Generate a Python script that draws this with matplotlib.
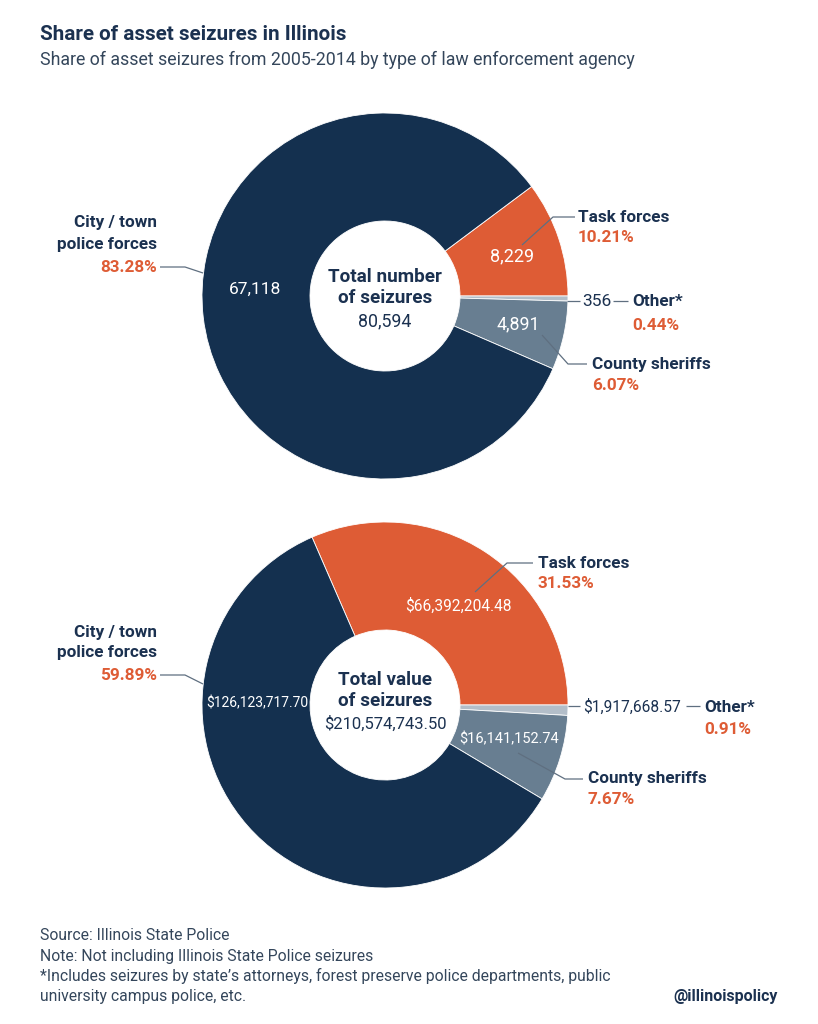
import numpy as np
import matplotlib
matplotlib.use("Agg")
import matplotlib.pyplot as plt

plt.rcParams['font.family'] = ['Roboto', 'DejaVu Sans']

# 数据
categories = ["Task forces", "Other*", "County sheriffs", "City / town\npolice forces"]
count_values = [8229, 356, 4891, 67118]
count_pct = [10.21, 0.44, 6.07, 83.28]
count_total = "80,594"
value_values = [66392204.48, 1917668.57, 16141152.74, 126123717.70]
value_pct = [31.53, 0.91, 7.67, 59.89]
value_total = "$210,574,743.50"

NAVY = "#14304f"
ORANGE = "#de5c35"
SLATE = "#687e91"
LIGHT = "#b3bec9"
TEXT = "#1b3150"
LINE = "#5f6f80"
colors = [ORANGE, LIGHT, SLATE, NAVY]

W, H = 818, 1024
fig = plt.figure(figsize=(W / 100, H / 100), dpi=100)


def donut(cx, cy, r, values, pct):
    ax = fig.add_axes([(cx - r) / W, 1 - (cy + r) / H, 2 * r / W, 2 * r / H])
    ax.pie(values, colors=colors, startangle=pct[0] * 3.6, counterclock=False,
           radius=1, wedgeprops=dict(width=1 - 75 / r, edgecolor="white", linewidth=0.6))
    ax.set_xlim(-1, 1)
    ax.set_ylim(-1, 1)
    ax.axis("off")
    return ax


donut(385, 296, 183, count_values, count_pct)
donut(385, 705, 183, value_values, value_pct)

# 覆盖层，用像素坐标放文字和引线
ov = fig.add_axes([0, 0, 1, 1], zorder=5)
ov.set_xlim(0, W)
ov.set_ylim(H, 0)
ov.axis("off")
ov.patch.set_alpha(0)


def lead(xs, ys):
    ov.plot(xs, ys, color=LINE, lw=0.9, solid_capstyle="butt")


def lab(x, y, s, size=12.3, color=TEXT, weight="bold", ha="left"):
    ov.text(x, y, s, fontsize=size, color=color, fontweight=weight, ha=ha, va="center")


# 标题
ov.text(40, 35, "Share of asset seizures in Illinois", fontsize=14.9, fontweight="bold",
        color=TEXT, va="center")
ov.text(40, 60, "Share of asset seizures from 2005-2014 by type of law enforcement agency",
        fontsize=12.8, fontweight="normal", color="#34465b", va="center")

# ---- 第一个图 ----
lab(157, 223, "City / town", ha="right")
lab(157, 245, "police forces", ha="right")
lab(157, 267, "%.2f%%" % count_pct[3], color=ORANGE, ha="right")
lead([160, 185, 203], [267, 267, 273])
lab(255, 289, "{:,}".format(count_values[3]), size=12.5, color="white", weight="normal", ha="center")

lab(385, 277, "Total number", size=13.6, ha="center")
lab(385, 298, "of seizures", size=13.6, ha="center")
lab(385, 321, count_total, size=12.8, weight="normal", ha="center")

lab(512, 256, "{:,}".format(count_values[0]), size=13, color="white", weight="normal", ha="center")
lead([522, 553, 575], [245, 217, 217])
lab(578, 217, categories[0])
lab(578, 237, "%.2f%%" % count_pct[0], color=ORANGE)

lead([567, 580], [301, 301])
lab(582, 302, "{:,}".format(count_values[1]), size=12.5, weight="normal")
lead([613, 628], [301, 301])
lab(632, 302, categories[1])
lab(632, 325, "%.2f%%" % count_pct[1], color=ORANGE)

lab(518, 324, "{:,}".format(count_values[2]), size=12.8, color="white", weight="normal", ha="center")
lead([542, 568, 587], [335, 364, 364])
lab(592, 364, categories[2])
lab(592, 385, "%.2f%%" % count_pct[2], color=ORANGE)

# ---- 第二个图 ----
lab(157, 632, "City / town", ha="right")
lab(157, 653, "police forces", ha="right")
lab(157, 675, "%.2f%%" % value_pct[3], color=ORANGE, ha="right")
lead([160, 185, 203], [675, 675, 684])
lab(257, 703, "${:,.2f}".format(value_values[3]), size=10, color="white", weight="normal", ha="center")

lab(385, 680, "Total value", size=13.6, ha="center")
lab(385, 701, "of seizures", size=13.6, ha="center")
lab(385, 724, value_total, size=12, weight="normal", ha="center")

lab(458, 606, "${:,.2f}".format(value_values[0]), size=11.2, color="white", weight="normal", ha="center")
lead([475, 507, 533], [592, 563, 563])
lab(538, 563, categories[0])
lab(538, 584, "%.2f%%" % value_pct[0], color=ORANGE)

lead([568, 580], [706, 706])
lab(583, 707, "${:,.2f}".format(value_values[1]), size=11.2, weight="normal")
lead([686, 700], [706, 706])
lab(704, 707, categories[1])
lab(704, 729, "%.2f%%" % value_pct[1], color=ORANGE)

lab(509, 739, "${:,.2f}".format(value_values[2]), size=10.5, color="white", weight="normal", ha="center")
lead([518, 565, 583], [753, 779, 779])
lab(588, 779, categories[2])
lab(588, 800, "%.2f%%" % value_pct[2], color=ORANGE)

# 脚注
notes = ["Source: Illinois State Police",
         "Note: Not including Illinois State Police seizures",
         "*Includes seizures by state\u2019s attorneys, forest preserve police departments, public",
         "university campus police, etc."]
for i, t in enumerate(notes):
    ov.text(40, 936 + i * 20, t, fontsize=11.3, fontweight="normal", color="#34465b", va="center")
ov.text(778, 996, "@illinoispolicy", fontsize=11.5, fontweight="bold", color=TEXT,
        ha="right", va="center")

fig.savefig("out.png", dpi=100, facecolor="white")
